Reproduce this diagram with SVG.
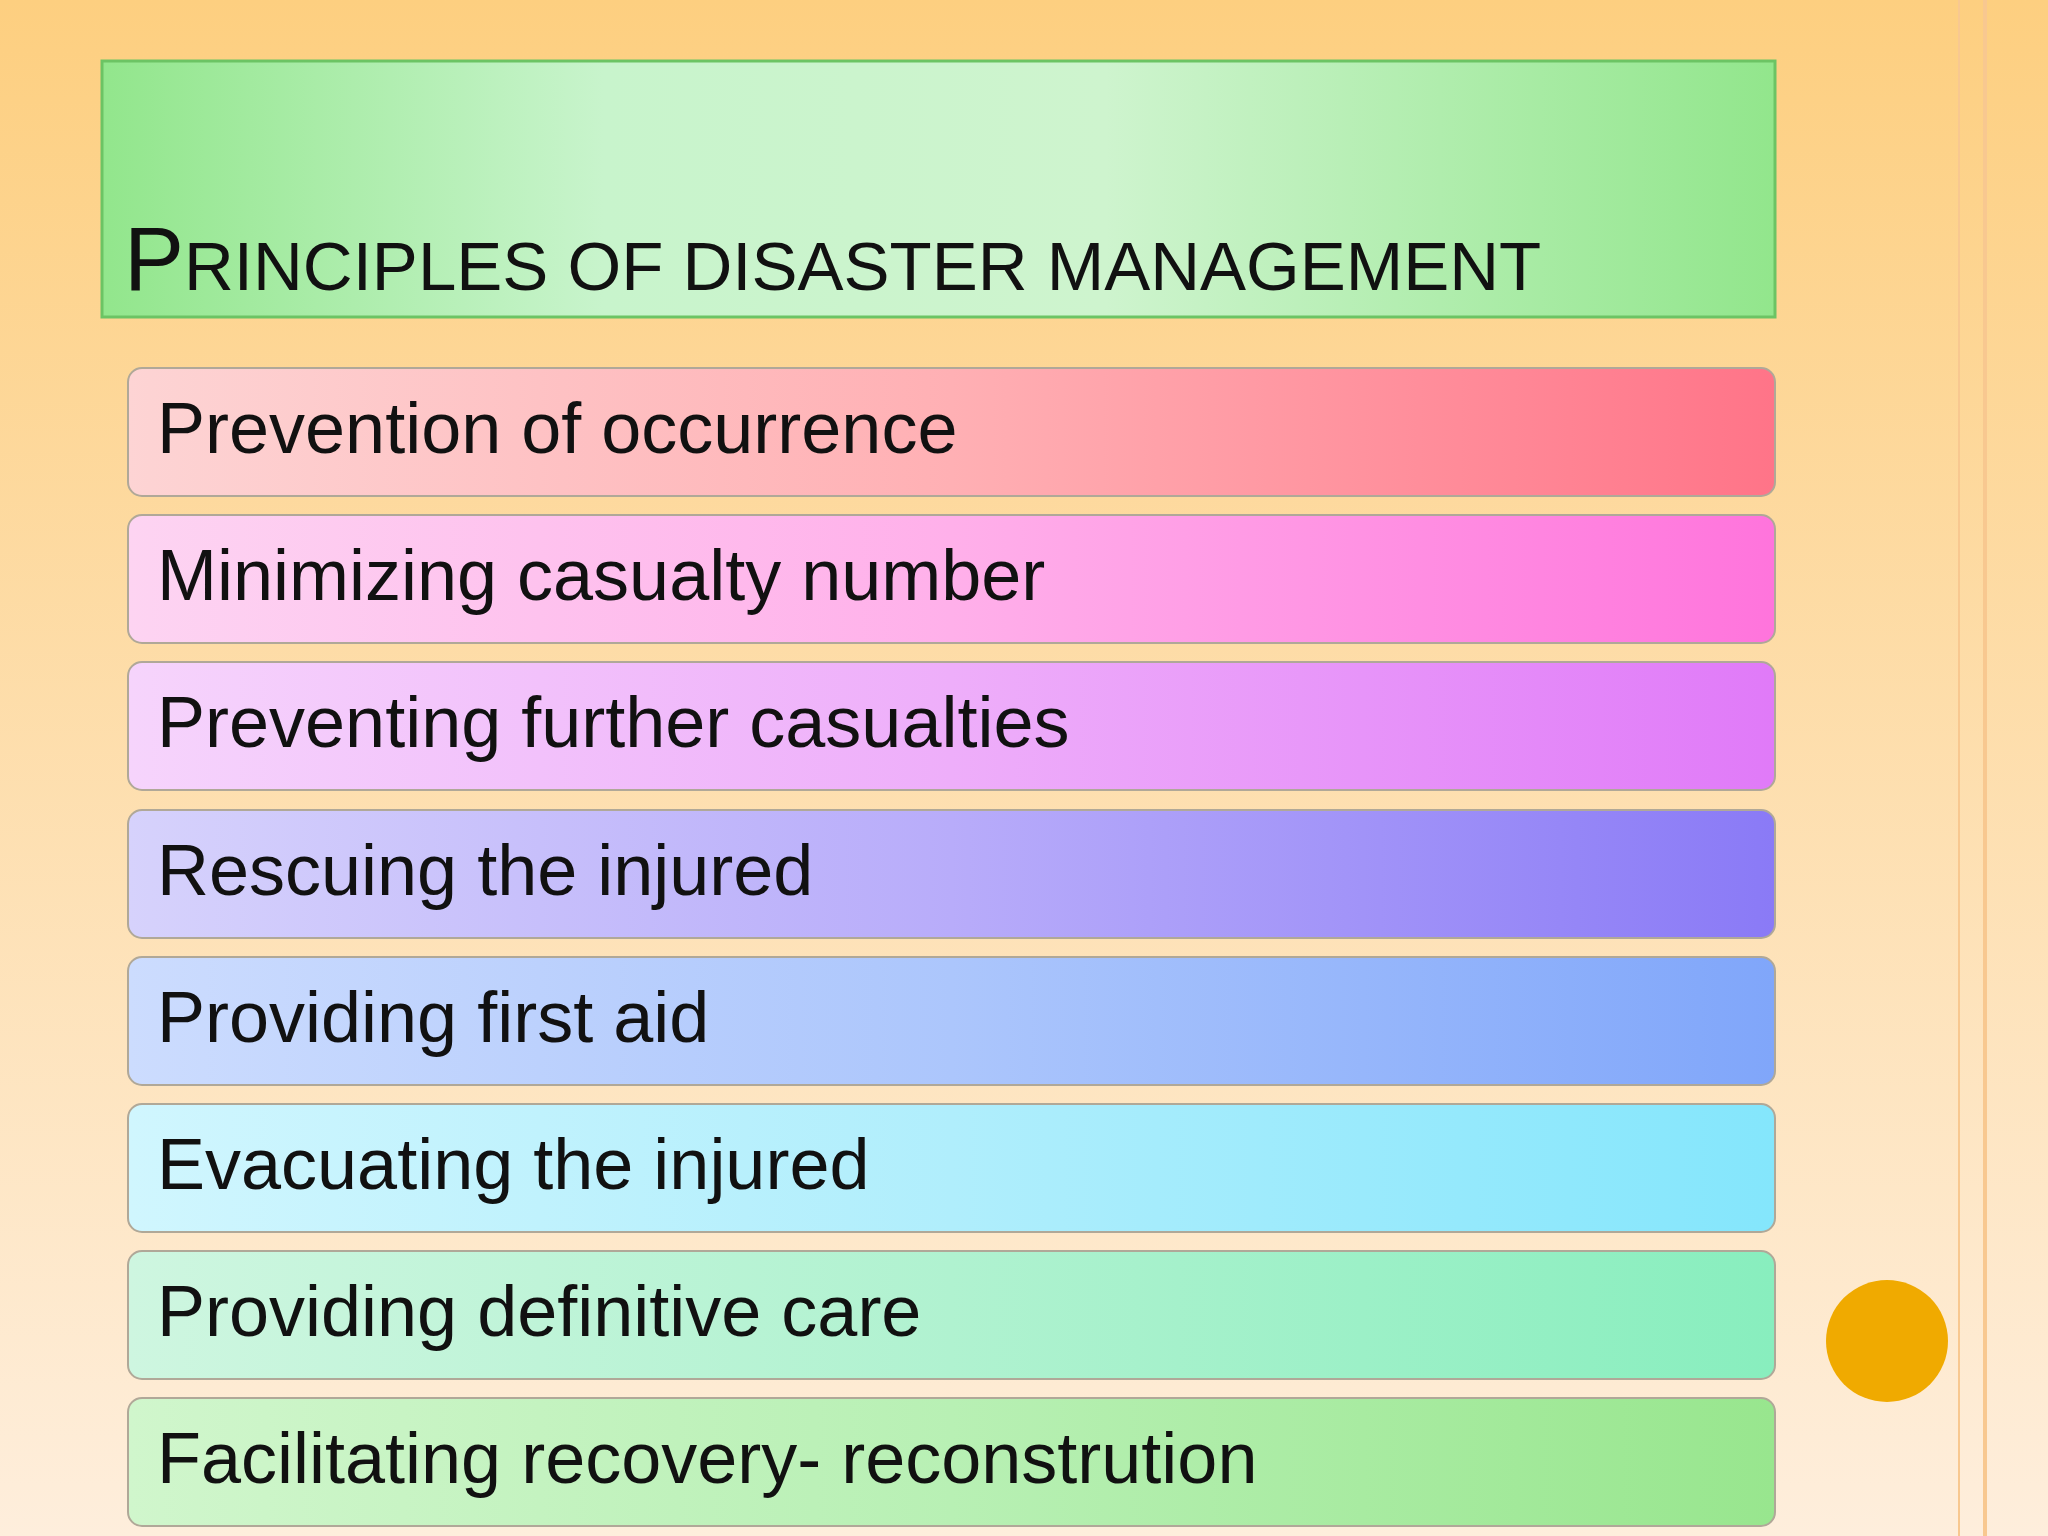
<svg xmlns="http://www.w3.org/2000/svg" width="2048" height="1536" viewBox="0 0 2048 1536">
<defs>
<linearGradient id="bg" x1="0" y1="0" x2="0" y2="1"><stop offset="0" stop-color="#fdcf80"/><stop offset="1" stop-color="#feeedc"/></linearGradient>
<linearGradient id="tg" x1="0" y1="0" x2="1" y2="0"><stop offset="0" stop-color="#92e68c"/><stop offset="0.3" stop-color="#c8f4cc"/><stop offset="0.6" stop-color="#cef4ce"/><stop offset="1" stop-color="#92e68c"/></linearGradient>
<linearGradient id="g1" x1="0" x2="1"><stop offset="0" stop-color="#fdd4d4"/><stop offset="0.5" stop-color="#ffb0b4"/><stop offset="1" stop-color="#ff7488"/></linearGradient>
<linearGradient id="g2" x1="0" x2="1"><stop offset="0" stop-color="#fdd4f2"/><stop offset="0.5" stop-color="#ffb0ea"/><stop offset="1" stop-color="#ff74dc"/></linearGradient>
<linearGradient id="g3" x1="0" x2="1"><stop offset="0" stop-color="#f6d4fc"/><stop offset="0.5" stop-color="#eeaefa"/><stop offset="1" stop-color="#e07af8"/></linearGradient>
<linearGradient id="g4" x1="0" x2="1"><stop offset="0" stop-color="#d6d2fc"/><stop offset="0.5" stop-color="#b8acfa"/><stop offset="1" stop-color="#8a7af6"/></linearGradient>
<linearGradient id="g5" x1="0" x2="1"><stop offset="0" stop-color="#ccdcfe"/><stop offset="0.5" stop-color="#acc6fc"/><stop offset="1" stop-color="#80a6fa"/></linearGradient>
<linearGradient id="g6" x1="0" x2="1"><stop offset="0" stop-color="#d0f6fe"/><stop offset="0.5" stop-color="#b0eefc"/><stop offset="1" stop-color="#84e6fc"/></linearGradient>
<linearGradient id="g7" x1="0" x2="1"><stop offset="0" stop-color="#cef6e0"/><stop offset="0.5" stop-color="#b0f2d0"/><stop offset="1" stop-color="#88eebe"/></linearGradient>
<linearGradient id="g8" x1="0" x2="1"><stop offset="0" stop-color="#d0f6cc"/><stop offset="0.5" stop-color="#b8f0b4"/><stop offset="1" stop-color="#98e68e"/></linearGradient>
</defs>
<style>
.row{stroke:#b0a898;stroke-width:2}
.t{font-family:"Liberation Sans",Arial,sans-serif;font-size:72px;fill:#111}
</style>
<rect width="2048" height="1536" fill="url(#bg)"/>
<line x1="1959" y1="0" x2="1959" y2="1536" stroke="#f8c890" stroke-width="2"/>
<line x1="1985" y1="0" x2="1985" y2="1536" stroke="#f8c890" stroke-width="4"/>
<g id="title">
<rect x="102" y="61" width="1673" height="256" fill="url(#tg)" stroke="#6cc464" stroke-width="3"/>
<text x="124" y="290" font-family="Liberation Sans,Arial,sans-serif" font-size="69" fill="#111"><tspan font-size="90">P</tspan>RINCIPLES OF DISASTER MANAGEMENT</text>
</g>
<g id="r1"><rect class="row" x="128" y="368" width="1647" height="128" rx="14" fill="url(#g1)"/><text class="t" x="157" y="453">Prevention of occurrence</text></g>
<g id="r2"><rect class="row" x="128" y="515" width="1647" height="128" rx="14" fill="url(#g2)"/><text class="t" x="157" y="600">Minimizing casualty number</text></g>
<g id="r3"><rect class="row" x="128" y="662" width="1647" height="128" rx="14" fill="url(#g3)"/><text class="t" x="157" y="747">Preventing further casualties</text></g>
<g id="r4"><rect class="row" x="128" y="810" width="1647" height="128" rx="14" fill="url(#g4)"/><text class="t" x="157" y="895">Rescuing the injured</text></g>
<g id="r5"><rect class="row" x="128" y="957" width="1647" height="128" rx="14" fill="url(#g5)"/><text class="t" x="157" y="1042">Providing first aid</text></g>
<g id="r6"><rect class="row" x="128" y="1104" width="1647" height="128" rx="14" fill="url(#g6)"/><text class="t" x="157" y="1189">Evacuating the injured</text></g>
<g id="r7"><rect class="row" x="128" y="1251" width="1647" height="128" rx="14" fill="url(#g7)"/><text class="t" x="157" y="1336">Providing definitive care</text></g>
<g id="r8"><rect class="row" x="128" y="1398" width="1647" height="128" rx="14" fill="url(#g8)"/><text class="t" x="157" y="1483">Facilitating recovery- reconstrution</text></g>
<g id="connectors"/>
<circle cx="1887" cy="1341" r="61" fill="#f0aa00"/>
</svg>
